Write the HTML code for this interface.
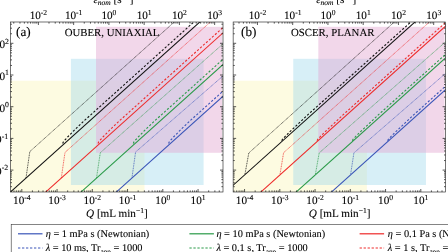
<!DOCTYPE html><html><head><meta charset="utf-8"><title>fig</title><style>html,body{margin:0;padding:0;background:#fff;overflow:hidden}svg{display:block}text{font-family:"Liberation Serif","Times New Roman",serif;fill:#000;stroke:#000;stroke-width:0.1px;text-rendering:geometricPrecision}</style></head><body>
<svg width="448" height="252" viewBox="0 0 448 252">
<rect width="448" height="252" fill="#fff"/>
<g>
<clipPath id="ca"><rect x="10.4" y="22.0" width="212.6" height="170.0"/></clipPath>
<path d="M10.4 80.7H96V152.8H144.5V192.0H10.4Z" fill="#fbf8c8" fill-opacity="0.55"/>
<rect x="96" y="80.7" width="48.5" height="72.10000000000001" fill="#fbf8c8" fill-opacity="0.12"/>
<rect x="70.9" y="58.8" width="132.7" height="126.2" fill="#9ad8ea" fill-opacity="0.40"/>
<rect x="96" y="26.8" width="126.0" height="126.00000000000001" fill="#e3a6d0" fill-opacity="0.45"/>
<g clip-path="url(#ca)" fill="none">
<path d="M0.50 200.98L209.81 13.02" stroke="#111111" stroke-width="1.05"/>
<path d="M62.70 143.52L63.40 141.70L67.90 136.75L73.90 130.57L84.40 120.54L107.90 99.43L192.90 22.80L292.90 -67.20" stroke="#111111" stroke-width="1.1" stroke-dasharray="2.2 1.8"/>
<path d="M26.00 178.00L29.80 151.60L184.30 13.03" stroke="#111111" stroke-width="0.75" stroke-dasharray="1 0.7"/>
<path d="M35.80 200.98L245.11 13.02" stroke="#ee2a2a" stroke-width="1.05"/>
<path d="M98.00 143.52L98.70 141.70L103.20 136.75L109.20 130.57L119.70 120.54L143.20 99.43L228.20 22.80L328.20 -67.20" stroke="#ee2a2a" stroke-width="1.1" stroke-dasharray="2.2 1.8"/>
<path d="M61.30 178.00L65.00 152.40L220.40 13.03" stroke="#ee2a2a" stroke-width="0.75" stroke-dasharray="1 0.7"/>
<path d="M71.10 200.98L280.41 13.02" stroke="#2a9a48" stroke-width="1.05"/>
<path d="M133.30 143.52L134.00 141.70L138.50 136.75L144.50 130.57L155.00 120.54L178.50 99.43L263.50 22.80L363.50 -67.20" stroke="#2a9a48" stroke-width="1.1" stroke-dasharray="2.2 1.8"/>
<path d="M96.50 177.90L100.30 152.70L232.70 35.23" stroke="#2a9a48" stroke-width="0.75" stroke-dasharray="1 0.7"/>
<path d="M106.40 200.98L315.71 13.02" stroke="#3a55b8" stroke-width="1.05"/>
<path d="M168.60 143.52L169.30 141.70L173.80 136.75L179.80 130.57L190.30 120.54L213.80 99.43L298.80 22.80L398.80 -67.20" stroke="#3a55b8" stroke-width="1.1" stroke-dasharray="2.2 1.8"/>
<path d="M132.00 177.50L135.60 152.00L232.70 67.50" stroke="#3a55b8" stroke-width="0.75" stroke-dasharray="1 0.7"/>
</g>
<path d="M11.19 192.0v-1.6M13.98 192.0v-1.6M16.34 192.0v-1.6M18.38 192.0v-1.6M20.19 192.0v-1.6M21.80 192.0v-3.0M32.41 192.0v-1.6M38.62 192.0v-1.6M43.02 192.0v-1.6M46.44 192.0v-1.6M49.23 192.0v-1.6M51.59 192.0v-1.6M53.63 192.0v-1.6M55.44 192.0v-1.6M57.05 192.0v-3.0M67.66 192.0v-1.6M73.87 192.0v-1.6M78.27 192.0v-1.6M81.69 192.0v-1.6M84.48 192.0v-1.6M86.84 192.0v-1.6M88.88 192.0v-1.6M90.69 192.0v-1.6M92.30 192.0v-3.0M102.91 192.0v-1.6M109.12 192.0v-1.6M113.52 192.0v-1.6M116.94 192.0v-1.6M119.73 192.0v-1.6M122.09 192.0v-1.6M124.13 192.0v-1.6M125.94 192.0v-1.6M127.55 192.0v-3.0M138.16 192.0v-1.6M144.37 192.0v-1.6M148.77 192.0v-1.6M152.19 192.0v-1.6M154.98 192.0v-1.6M157.34 192.0v-1.6M159.38 192.0v-1.6M161.19 192.0v-1.6M162.80 192.0v-3.0M173.41 192.0v-1.6M179.62 192.0v-1.6M184.02 192.0v-1.6M187.44 192.0v-1.6M190.23 192.0v-1.6M192.59 192.0v-1.6M194.63 192.0v-1.6M196.44 192.0v-1.6M198.05 192.0v-3.0M208.66 192.0v-1.6M214.87 192.0v-1.6M219.27 192.0v-1.6M13.76 22.0v1.6M19.97 22.0v1.6M24.37 22.0v1.6M27.79 22.0v1.6M30.58 22.0v1.6M32.94 22.0v1.6M34.98 22.0v1.6M36.79 22.0v1.6M38.40 22.0v3.0M49.01 22.0v1.6M55.22 22.0v1.6M59.62 22.0v1.6M63.04 22.0v1.6M65.83 22.0v1.6M68.19 22.0v1.6M70.23 22.0v1.6M72.04 22.0v1.6M73.65 22.0v3.0M84.26 22.0v1.6M90.47 22.0v1.6M94.87 22.0v1.6M98.29 22.0v1.6M101.08 22.0v1.6M103.44 22.0v1.6M105.48 22.0v1.6M107.29 22.0v1.6M108.90 22.0v3.0M119.51 22.0v1.6M125.72 22.0v1.6M130.12 22.0v1.6M133.54 22.0v1.6M136.33 22.0v1.6M138.69 22.0v1.6M140.73 22.0v1.6M142.54 22.0v1.6M144.15 22.0v3.0M154.76 22.0v1.6M160.97 22.0v1.6M165.37 22.0v1.6M168.79 22.0v1.6M171.58 22.0v1.6M173.94 22.0v1.6M175.98 22.0v1.6M177.79 22.0v1.6M179.40 22.0v3.0M190.01 22.0v1.6M196.22 22.0v1.6M200.62 22.0v1.6M204.04 22.0v1.6M206.83 22.0v1.6M209.19 22.0v1.6M211.23 22.0v1.6M213.04 22.0v1.6M214.65 22.0v3.0M10.4 186.68h1.6M223 186.68h-1.6M10.4 182.71h1.6M223 182.71h-1.6M10.4 179.64h1.6M223 179.64h-1.6M10.4 177.13h1.6M223 177.13h-1.6M10.4 175.01h1.6M223 175.01h-1.6M10.4 173.17h1.6M223 173.17h-1.6M10.4 171.55h1.6M223 171.55h-1.6M10.4 170.10h3.0M223 170.10h-3.0M10.4 160.56h1.6M223 160.56h-1.6M10.4 154.98h1.6M223 154.98h-1.6M10.4 151.01h1.6M223 151.01h-1.6M10.4 147.94h1.6M223 147.94h-1.6M10.4 145.43h1.6M223 145.43h-1.6M10.4 143.31h1.6M223 143.31h-1.6M10.4 141.47h1.6M223 141.47h-1.6M10.4 139.85h1.6M223 139.85h-1.6M10.4 138.40h3.0M223 138.40h-3.0M10.4 128.86h1.6M223 128.86h-1.6M10.4 123.28h1.6M223 123.28h-1.6M10.4 119.31h1.6M223 119.31h-1.6M10.4 116.24h1.6M223 116.24h-1.6M10.4 113.73h1.6M223 113.73h-1.6M10.4 111.61h1.6M223 111.61h-1.6M10.4 109.77h1.6M223 109.77h-1.6M10.4 108.15h1.6M223 108.15h-1.6M10.4 106.70h3.0M223 106.70h-3.0M10.4 97.16h1.6M223 97.16h-1.6M10.4 91.58h1.6M223 91.58h-1.6M10.4 87.61h1.6M223 87.61h-1.6M10.4 84.54h1.6M223 84.54h-1.6M10.4 82.03h1.6M223 82.03h-1.6M10.4 79.91h1.6M223 79.91h-1.6M10.4 78.07h1.6M223 78.07h-1.6M10.4 76.45h1.6M223 76.45h-1.6M10.4 75.00h3.0M223 75.00h-3.0M10.4 65.46h1.6M223 65.46h-1.6M10.4 59.88h1.6M223 59.88h-1.6M10.4 55.91h1.6M223 55.91h-1.6M10.4 52.84h1.6M223 52.84h-1.6M10.4 50.33h1.6M223 50.33h-1.6M10.4 48.21h1.6M223 48.21h-1.6M10.4 46.37h1.6M223 46.37h-1.6M10.4 44.75h1.6M223 44.75h-1.6M10.4 43.30h3.0M223 43.30h-3.0M10.4 33.76h1.6M223 33.76h-1.6M10.4 28.18h1.6M223 28.18h-1.6M10.4 24.21h1.6M223 24.21h-1.6" stroke="#111" stroke-width="0.7" fill="none"/>
<rect x="10.4" y="22.0" width="212.6" height="170.0" fill="none" stroke="#2a2a2a" stroke-width="0.65"/>
<text x="21.80" y="204" text-anchor="middle" font-size="11.2">10<tspan dy="-3.8" font-size="7.6">-4</tspan></text>
<text x="57.05" y="204" text-anchor="middle" font-size="11.2">10<tspan dy="-3.8" font-size="7.6">-3</tspan></text>
<text x="92.30" y="204" text-anchor="middle" font-size="11.2">10<tspan dy="-3.8" font-size="7.6">-2</tspan></text>
<text x="127.55" y="204" text-anchor="middle" font-size="11.2">10<tspan dy="-3.8" font-size="7.6">-1</tspan></text>
<text x="162.80" y="204" text-anchor="middle" font-size="11.2">10<tspan dy="-3.8" font-size="7.6">0</tspan></text>
<text x="198.05" y="204" text-anchor="middle" font-size="11.2">10<tspan dy="-3.8" font-size="7.6">1</tspan></text>
<text x="38.40" y="18.9" text-anchor="middle" font-size="11.2">10<tspan dy="-3.8" font-size="7.6">-2</tspan></text>
<text x="73.65" y="18.9" text-anchor="middle" font-size="11.2">10<tspan dy="-3.8" font-size="7.6">-1</tspan></text>
<text x="108.90" y="18.9" text-anchor="middle" font-size="11.2">10<tspan dy="-3.8" font-size="7.6">0</tspan></text>
<text x="144.15" y="18.9" text-anchor="middle" font-size="11.2">10<tspan dy="-3.8" font-size="7.6">1</tspan></text>
<text x="179.40" y="18.9" text-anchor="middle" font-size="11.2">10<tspan dy="-3.8" font-size="7.6">2</tspan></text>
<text x="214.65" y="18.9" text-anchor="middle" font-size="11.2">10<tspan dy="-3.8" font-size="7.6">3</tspan></text>
<text x="16" y="35.5" font-size="13.2">(a)</text>
<text x="64.7" y="35.5" font-size="10.8">OUBER, UNIAXIAL</text>
<text x="86" y="217" font-size="11.2"><tspan font-style="italic">Q</tspan> [mL min<tspan dy="-4" font-size="7.6">−1</tspan><tspan dy="4">]</tspan></text>
<text x="93.4" y="2.8" font-size="11.2"><tspan font-style="italic">ε̇</tspan><tspan dy="2.1" font-size="7.5" font-style="italic">nom</tspan><tspan dy="-2.1"> [s</tspan><tspan dy="-4" font-size="7.6">−1</tspan><tspan dy="4">]</tspan></text>
</g>
<g>
<clipPath id="cb"><rect x="233.15" y="22.0" width="212.45000000000002" height="170.0"/></clipPath>
<path d="M233.15 80.7H318.35V152.8H366.85V192.0H233.15Z" fill="#fbf8c8" fill-opacity="0.55"/>
<rect x="318.35" y="80.7" width="48.5" height="72.10000000000001" fill="#fbf8c8" fill-opacity="0.12"/>
<rect x="293.25" y="58.8" width="132.7" height="126.2" fill="#9ad8ea" fill-opacity="0.40"/>
<rect x="318.35" y="26.8" width="126.25000000000003" height="126.00000000000001" fill="#e3a6d0" fill-opacity="0.45"/>
<g clip-path="url(#cb)" fill="none">
<path d="M215.65 200.98L424.96 13.02" stroke="#111111" stroke-width="1.05"/>
<path d="M281.75 140.72L282.55 139.10L289.95 131.66L307.95 114.69L411.95 21.00L511.95 -68.90" stroke="#111111" stroke-width="1.1" stroke-dasharray="2.2 1.8"/>
<path d="M245.00 174.00L248.80 153.00L404.20 13.10" stroke="#111111" stroke-width="0.75" stroke-dasharray="1 0.7"/>
<path d="M250.95 200.98L460.26 13.02" stroke="#ee2a2a" stroke-width="1.05"/>
<path d="M317.05 140.72L317.85 139.10L325.25 131.66L343.25 114.69L447.25 21.00L547.25 -68.90" stroke="#ee2a2a" stroke-width="1.1" stroke-dasharray="2.2 1.8"/>
<path d="M280.10 173.80L283.60 152.70L439.30 13.14" stroke="#ee2a2a" stroke-width="0.75" stroke-dasharray="1 0.7"/>
<path d="M286.25 200.98L495.56 13.02" stroke="#2a9a48" stroke-width="1.05"/>
<path d="M352.35 140.72L353.15 139.10L360.55 131.66L378.55 114.69L482.55 21.00L582.55 -68.90" stroke="#2a9a48" stroke-width="1.1" stroke-dasharray="2.2 1.8"/>
<path d="M315.45 173.90L319.20 152.90L455.40 33.21" stroke="#2a9a48" stroke-width="0.75" stroke-dasharray="1 0.7"/>
<path d="M321.55 200.98L530.86 13.02" stroke="#3a55b8" stroke-width="1.05"/>
<path d="M387.65 140.72L388.45 139.10L395.85 131.66L413.85 114.69L517.85 21.00L617.85 -68.90" stroke="#3a55b8" stroke-width="1.1" stroke-dasharray="2.2 1.8"/>
<path d="M350.70 173.90L353.90 152.90L455.30 64.92" stroke="#3a55b8" stroke-width="0.75" stroke-dasharray="1 0.7"/>
</g>
<path d="M233.94 192.0v-1.6M236.73 192.0v-1.6M239.09 192.0v-1.6M241.13 192.0v-1.6M242.94 192.0v-1.6M244.55 192.0v-3.0M255.16 192.0v-1.6M261.37 192.0v-1.6M265.77 192.0v-1.6M269.19 192.0v-1.6M271.98 192.0v-1.6M274.34 192.0v-1.6M276.38 192.0v-1.6M278.19 192.0v-1.6M279.80 192.0v-3.0M290.41 192.0v-1.6M296.62 192.0v-1.6M301.02 192.0v-1.6M304.44 192.0v-1.6M307.23 192.0v-1.6M309.59 192.0v-1.6M311.63 192.0v-1.6M313.44 192.0v-1.6M315.05 192.0v-3.0M325.66 192.0v-1.6M331.87 192.0v-1.6M336.27 192.0v-1.6M339.69 192.0v-1.6M342.48 192.0v-1.6M344.84 192.0v-1.6M346.88 192.0v-1.6M348.69 192.0v-1.6M350.30 192.0v-3.0M360.91 192.0v-1.6M367.12 192.0v-1.6M371.52 192.0v-1.6M374.94 192.0v-1.6M377.73 192.0v-1.6M380.09 192.0v-1.6M382.13 192.0v-1.6M383.94 192.0v-1.6M385.55 192.0v-3.0M396.16 192.0v-1.6M402.37 192.0v-1.6M406.77 192.0v-1.6M410.19 192.0v-1.6M412.98 192.0v-1.6M415.34 192.0v-1.6M417.38 192.0v-1.6M419.19 192.0v-1.6M420.80 192.0v-3.0M431.41 192.0v-1.6M437.62 192.0v-1.6M442.02 192.0v-1.6M239.02 22.0v1.6M243.42 22.0v1.6M246.84 22.0v1.6M249.63 22.0v1.6M251.99 22.0v1.6M254.03 22.0v1.6M255.84 22.0v1.6M257.45 22.0v3.0M268.06 22.0v1.6M274.27 22.0v1.6M278.67 22.0v1.6M282.09 22.0v1.6M284.88 22.0v1.6M287.24 22.0v1.6M289.28 22.0v1.6M291.09 22.0v1.6M292.70 22.0v3.0M303.31 22.0v1.6M309.52 22.0v1.6M313.92 22.0v1.6M317.34 22.0v1.6M320.13 22.0v1.6M322.49 22.0v1.6M324.53 22.0v1.6M326.34 22.0v1.6M327.95 22.0v3.0M338.56 22.0v1.6M344.77 22.0v1.6M349.17 22.0v1.6M352.59 22.0v1.6M355.38 22.0v1.6M357.74 22.0v1.6M359.78 22.0v1.6M361.59 22.0v1.6M363.20 22.0v3.0M373.81 22.0v1.6M380.02 22.0v1.6M384.42 22.0v1.6M387.84 22.0v1.6M390.63 22.0v1.6M392.99 22.0v1.6M395.03 22.0v1.6M396.84 22.0v1.6M398.45 22.0v3.0M409.06 22.0v1.6M415.27 22.0v1.6M419.67 22.0v1.6M423.09 22.0v1.6M425.88 22.0v1.6M428.24 22.0v1.6M430.28 22.0v1.6M432.09 22.0v1.6M433.70 22.0v3.0M444.31 22.0v1.6M233.15 186.68h1.6M445.6 186.68h-1.6M233.15 182.71h1.6M445.6 182.71h-1.6M233.15 179.64h1.6M445.6 179.64h-1.6M233.15 177.13h1.6M445.6 177.13h-1.6M233.15 175.01h1.6M445.6 175.01h-1.6M233.15 173.17h1.6M445.6 173.17h-1.6M233.15 171.55h1.6M445.6 171.55h-1.6M233.15 170.10h3.0M445.6 170.10h-3.0M233.15 160.56h1.6M445.6 160.56h-1.6M233.15 154.98h1.6M445.6 154.98h-1.6M233.15 151.01h1.6M445.6 151.01h-1.6M233.15 147.94h1.6M445.6 147.94h-1.6M233.15 145.43h1.6M445.6 145.43h-1.6M233.15 143.31h1.6M445.6 143.31h-1.6M233.15 141.47h1.6M445.6 141.47h-1.6M233.15 139.85h1.6M445.6 139.85h-1.6M233.15 138.40h3.0M445.6 138.40h-3.0M233.15 128.86h1.6M445.6 128.86h-1.6M233.15 123.28h1.6M445.6 123.28h-1.6M233.15 119.31h1.6M445.6 119.31h-1.6M233.15 116.24h1.6M445.6 116.24h-1.6M233.15 113.73h1.6M445.6 113.73h-1.6M233.15 111.61h1.6M445.6 111.61h-1.6M233.15 109.77h1.6M445.6 109.77h-1.6M233.15 108.15h1.6M445.6 108.15h-1.6M233.15 106.70h3.0M445.6 106.70h-3.0M233.15 97.16h1.6M445.6 97.16h-1.6M233.15 91.58h1.6M445.6 91.58h-1.6M233.15 87.61h1.6M445.6 87.61h-1.6M233.15 84.54h1.6M445.6 84.54h-1.6M233.15 82.03h1.6M445.6 82.03h-1.6M233.15 79.91h1.6M445.6 79.91h-1.6M233.15 78.07h1.6M445.6 78.07h-1.6M233.15 76.45h1.6M445.6 76.45h-1.6M233.15 75.00h3.0M445.6 75.00h-3.0M233.15 65.46h1.6M445.6 65.46h-1.6M233.15 59.88h1.6M445.6 59.88h-1.6M233.15 55.91h1.6M445.6 55.91h-1.6M233.15 52.84h1.6M445.6 52.84h-1.6M233.15 50.33h1.6M445.6 50.33h-1.6M233.15 48.21h1.6M445.6 48.21h-1.6M233.15 46.37h1.6M445.6 46.37h-1.6M233.15 44.75h1.6M445.6 44.75h-1.6M233.15 43.30h3.0M445.6 43.30h-3.0M233.15 33.76h1.6M445.6 33.76h-1.6M233.15 28.18h1.6M445.6 28.18h-1.6M233.15 24.21h1.6M445.6 24.21h-1.6" stroke="#111" stroke-width="0.7" fill="none"/>
<rect x="233.15" y="22.0" width="212.45000000000002" height="170.0" fill="none" stroke="#2a2a2a" stroke-width="0.65"/>
<text x="244.55" y="204" text-anchor="middle" font-size="11.2">10<tspan dy="-3.8" font-size="7.6">-4</tspan></text>
<text x="279.80" y="204" text-anchor="middle" font-size="11.2">10<tspan dy="-3.8" font-size="7.6">-3</tspan></text>
<text x="315.05" y="204" text-anchor="middle" font-size="11.2">10<tspan dy="-3.8" font-size="7.6">-2</tspan></text>
<text x="350.30" y="204" text-anchor="middle" font-size="11.2">10<tspan dy="-3.8" font-size="7.6">-1</tspan></text>
<text x="385.55" y="204" text-anchor="middle" font-size="11.2">10<tspan dy="-3.8" font-size="7.6">0</tspan></text>
<text x="420.80" y="204" text-anchor="middle" font-size="11.2">10<tspan dy="-3.8" font-size="7.6">1</tspan></text>
<text x="257.45" y="18.9" text-anchor="middle" font-size="11.2">10<tspan dy="-3.8" font-size="7.6">-2</tspan></text>
<text x="292.70" y="18.9" text-anchor="middle" font-size="11.2">10<tspan dy="-3.8" font-size="7.6">-1</tspan></text>
<text x="327.95" y="18.9" text-anchor="middle" font-size="11.2">10<tspan dy="-3.8" font-size="7.6">0</tspan></text>
<text x="363.20" y="18.9" text-anchor="middle" font-size="11.2">10<tspan dy="-3.8" font-size="7.6">1</tspan></text>
<text x="398.45" y="18.9" text-anchor="middle" font-size="11.2">10<tspan dy="-3.8" font-size="7.6">2</tspan></text>
<text x="433.70" y="18.9" text-anchor="middle" font-size="11.2">10<tspan dy="-3.8" font-size="7.6">3</tspan></text>
<text x="241.05" y="35.5" font-size="13.2">(b)</text>
<text x="291" y="35.5" font-size="10.8">OSCER, PLANAR</text>
<text x="308.75" y="217" font-size="11.2"><tspan font-style="italic">Q</tspan> [mL min<tspan dy="-4" font-size="7.6">−1</tspan><tspan dy="4">]</tspan></text>
<text x="316.15" y="2.8" font-size="11.2"><tspan font-style="italic">ε̇</tspan><tspan dy="2.1" font-size="7.5" font-style="italic">nom</tspan><tspan dy="-2.1"> [s</tspan><tspan dy="-4" font-size="7.6">−1</tspan><tspan dy="4">]</tspan></text>
</g>
<text x="-9.5" y="174.90" font-size="11.2">10<tspan dy="-4.6" font-size="7.8">-2</tspan></text>
<text x="-9.5" y="143.20" font-size="11.2">10<tspan dy="-4.6" font-size="7.8">-1</tspan></text>
<text x="-6.1" y="111.50" font-size="11.2">10<tspan dy="-4.6" font-size="7.8">0</tspan></text>
<text x="-6.1" y="79.80" font-size="11.2">10<tspan dy="-4.6" font-size="7.8">1</tspan></text>
<text x="-6.1" y="48.10" font-size="11.2">10<tspan dy="-4.6" font-size="7.8">2</tspan></text>
<rect x="11.2" y="224.5" width="450" height="40" fill="#fff" stroke="#333" stroke-width="0.6"/>
<path d="M18 233.8h24.5" stroke="#3a55b8" stroke-width="1.2"/>
<path d="M18 248h24.5" stroke="#3a55b8" stroke-width="1.0" stroke-dasharray="2.3 1.7"/>
<text x="45.7" y="237" font-size="10.33"><tspan font-style="italic">η</tspan> = 1 mPa s (Newtonian)</text>
<text x="45.7" y="251.2" font-size="10.33"><tspan font-style="italic">λ</tspan> = 10 ms, Tr<tspan dy="2.9" font-size="7.2">app</tspan><tspan dy="-2.9"> = 1000</tspan></text>
<path d="M189.4 233.8h24.5" stroke="#2a9a48" stroke-width="1.2"/>
<path d="M189.4 248h24.5" stroke="#2a9a48" stroke-width="1.0" stroke-dasharray="2.3 1.7"/>
<text x="216.4" y="237" font-size="10.33"><tspan font-style="italic">η</tspan> = 10 mPa s (Newtonian)</text>
<text x="216.4" y="251.2" font-size="10.33"><tspan font-style="italic">λ</tspan> = 0.1 s, Tr<tspan dy="2.9" font-size="7.2">app</tspan><tspan dy="-2.9"> = 1000</tspan></text>
<path d="M359.6 233.8h24.5" stroke="#ee2a2a" stroke-width="1.2"/>
<path d="M359.6 248h24.5" stroke="#ee2a2a" stroke-width="1.0" stroke-dasharray="2.3 1.7"/>
<text x="387.8" y="237" font-size="10.33"><tspan font-style="italic">η</tspan> = 0.1 Pa s (Newtonian)</text>
<text x="387.8" y="251.2" font-size="10.33"><tspan font-style="italic">λ</tspan> = 1 s, Tr<tspan dy="2.9" font-size="7.2">app</tspan><tspan dy="-2.9"> = 1000</tspan></text>
</svg></body></html>
